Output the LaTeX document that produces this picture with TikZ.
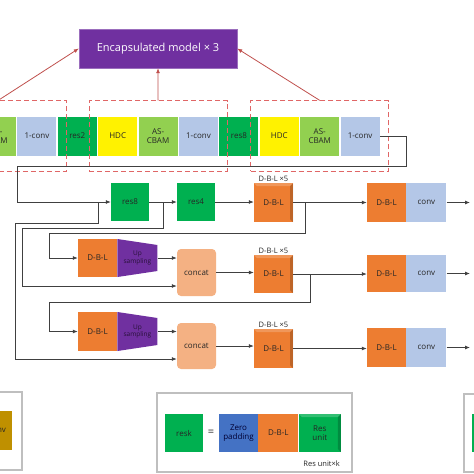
\documentclass[tikz,border=0pt]{standalone}
\usepackage{fontspec}
\setmainfont{Open Sans}
\usetikzlibrary{positioning, arrows.meta, fit, calc}

\definecolor{purp}{HTML}{7030A0}
\definecolor{lgreen}{HTML}{92D050}
\definecolor{lblue}{HTML}{B4C7E7}
\definecolor{dgreen}{HTML}{00B050}
\definecolor{orng}{HTML}{ED7D31}
\definecolor{peach}{HTML}{F4B183}
\definecolor{zblue}{HTML}{4472C4}
\definecolor{olive}{HTML}{BF9000}
\definecolor{dashred}{HTML}{E06666}
\definecolor{arrred}{HTML}{C0504D}
\definecolor{wirec}{HTML}{404040}
\definecolor{txt}{HTML}{262626}

\begin{document}
\begin{tikzpicture}[x=1pt, y=-1pt,
  blk/.style={minimum width=39pt, minimum height=39pt, inner sep=0pt, align=center, font=\fontsize{8}{9}\selectfont, text=txt},
  cube/.style={path picture={
    \fill[black, opacity=.2] ([xshift=-3pt,yshift=-3pt]path picture bounding box.north east) -- (path picture bounding box.north east) -- (path picture bounding box.south east) -- ([xshift=-3pt,yshift=3pt]path picture bounding box.south east) -- cycle;
    \fill[white, opacity=.2] (path picture bounding box.north west) -- (path picture bounding box.north east) -- ([xshift=-3pt,yshift=-3pt]path picture bounding box.north east) -- ([xshift=3pt,yshift=-3pt]path picture bounding box.north west) -- cycle;}},
  upsam/.style={blk, minimum width=40pt, font=\fontsize{6.5}{7.5}\selectfont, text=black!65!purp, path picture={
    \fill[purp] (path picture bounding box.north west) -- ([yshift=-6pt]path picture bounding box.north east) -- ([yshift=6pt]path picture bounding box.south east) -- (path picture bounding box.south west) -- cycle;}},
  grp/.style={draw=dashred, line width=.9pt, dash pattern=on 5pt off 3pt, inner xsep=9pt, inner ysep=15.5pt},
  wire/.style={draw=wirec, line width=.8pt},
  arr/.style={wire, -{Latex[length=5pt,width=4pt]}},
  redarr/.style={draw=arrred, line width=.8pt, -{Latex[length=5pt,width=4pt]}},
  lbl/.style={font=\fontsize{7.5}{8}\selectfont, text=txt, inner sep=1pt},
  legend/.style={draw=black!25, line width=1.2pt}
]
\fill[white] (0,0) rectangle (474,474);
\useasboundingbox (0,0) rectangle (474,474);

% encapsulated model
\node[fill=purp, draw=purp!70!white, minimum width=158pt, minimum height=39pt, text=white, font=\fontsize{11}{12}\selectfont] (encap) at (158,48.5) {Encapsulated model × 3};

% backbone row
\node[blk, fill=lgreen] (cbamL) at (-3.5,136) {AS-\\CBAM};
\node[blk, fill=lblue, right=1pt of cbamL] (conv1L) {1-conv};
\node[blk, fill=dgreen, right=1pt of conv1L] (res2) {res2};
\node[blk, fill=yellow, right=1pt of res2] (hdcM) {HDC};
\node[blk, fill=lgreen, right=1pt of hdcM] (cbamM) {AS-\\CBAM};
\node[blk, fill=lblue, right=1pt of cbamM] (conv1M) {1-conv};
\node[blk, fill=dgreen, right=1pt of conv1M] (res8a) {res8};
\node[blk, fill=yellow, right=1pt of res8a] (hdcR) {HDC};
\node[blk, fill=lgreen, right=1pt of hdcR] (cbamR) {AS-\\CBAM};
\node[blk, fill=lblue, right=1pt of cbamR] (conv1R) {1-conv};

% dashed groups
\node[grp, fit=(cbamL) (conv1L), inner xsep=10pt] (gL) {};
\node[grp, fit=(hdcM) (conv1M)] (gM) {};
\node[grp, fit=(hdcR) (conv1R)] (gR) {};
\coordinate (tL) at (-2,100.5);
\draw[redarr] (tL) -- (encap.west);
\draw[redarr] (gM.north) -- (encap.south);
\draw[redarr] (gR.north) -- (encap.east);

% second row
\node[blk, fill=dgreen, minimum width=38pt, minimum height=38pt] (res8b) at (130,202) {res8};
\node[blk, fill=dgreen, minimum width=38pt, minimum height=38pt] (res4) at (196,202) {res4};
\node[blk, fill=orng, cube, label={[lbl]above:D-B-L ×5}] (dblA) at (273.5,202.5) {D-B-L};
\node[blk, fill=orng] (hdA) at (386.5,202.5) {D-B-L};
\node[blk, fill=lblue, minimum width=40pt, right=0pt of hdA] (cvA) {conv};
\coordinate (outA) at (470,202.5);

% third row
\node[blk, fill=orng, minimum height=38pt] (upA) at (97.5,258) {D-B-L};
\node[upsam, minimum height=38pt, right=0pt of upA] (usA) {Up\\sampling};
\node[blk, fill=peach, rounded corners=4pt, minimum height=47pt] (catA) at (196.5,272.5) {concat};
\node[blk, fill=orng, cube, minimum height=38pt, label={[lbl]above:D-B-L ×5}] (dblB) at (273.5,274) {D-B-L};
\node[blk, fill=orng, minimum height=37pt] (hdB) at (386.5,273.5) {D-B-L};
\node[blk, fill=lblue, minimum width=40pt, minimum height=37pt, right=0pt of hdB] (cvB) {conv};
\coordinate (outB) at (470,273.5);

% fourth row
\node[blk, fill=orng] (upB) at (97.5,331.5) {D-B-L};
\node[upsam, right=0pt of upB] (usB) {Up\\sampling};
\node[blk, fill=peach, rounded corners=4pt, minimum height=46pt] (catB) at (196.5,346) {concat};
\node[blk, fill=orng, cube, label={[lbl]above:D-B-L ×5}] (dblC) at (273.5,348.5) {D-B-L};
\node[blk, fill=orng] (hdC) at (386.5,347.5) {D-B-L};
\node[blk, fill=lblue, minimum width=40pt, right=0pt of hdC] (cvC) {conv};
\coordinate (outC) at (470,347.5);

% connectors
\coordinate (jA) at (98,202);
\coordinate (jB) at (163,202);
\coordinate (jC) at (305,202.5);
\coordinate (jD) at (310,274);
\draw[arr] (conv1R.east) -- (406,136) |- (17,166) |- (res8b.west);
\draw[arr] (res8b.east) -- (res4.west);
\draw[arr] (res4.east) -- (res4.east -| dblA.west);
\draw[arr] (dblA.east) -- (hdA.west);
\draw[arr] (cvA.east) -- (outA);
\draw[wire] (jA) -- (98,223) -| (15,300);
\draw[arr] (15,300) |- (15,359 -| catB.west);
\draw[arr] (jB) -- (163,228) -| (22,286) -- (22,286 -| catA.west);
\draw[arr] (jC) |- (49,233) |- (upA.west);
\draw[arr] (usA.east) -- (usA.east -| catA.west);
\draw[arr] (catA.east) -- (catA.east -| dblB.west);
\draw[arr] (dblB.east) -- (dblB.east -| hdB.west);
\draw[arr] (cvB.east) -- (outB);
\draw[arr] (jD) |- (49,302) |- (upB.west);
\draw[arr] (usB.east) -- (usB.east -| catB.west);
\draw[arr] (catB.east) -- (catB.east -| dblC.west);
\draw[arr] (dblC.east) -- (dblC.east -| hdC.west);
\draw[arr] (cvC.east) -- (outC);

% legends
\draw[legend] (-60,392) rectangle (22,470);
\node[blk, fill=olive, text width=27pt, align=right] (lgA) at (-7.5,430.5) {conv};
\node[legend, minimum width=195pt, minimum height=79pt] (lgBox) at (254.5,432.5) {};
\node[blk, fill=dgreen, minimum width=38pt, minimum height=38pt] (resk) at (184,433) {resk};
\node[font=\fontsize{11}{12}\selectfont, text=txt] (eq) at (211,433) {=};
\node[blk, fill=zblue, minimum height=38pt, text=black!80!blue] (zpad) at (238.5,433) {Zero\\padding};
\node[blk, fill=orng, minimum height=38pt, minimum width=40pt, right=0pt of zpad] (dblL) {D-B-L};
\node[blk, fill=dgreen, cube, minimum height=38pt, minimum width=42pt, right=0pt of dblL] (runit) {Res\\unit};
\node[lbl, anchor=east] (rk) at (341,464) {Res unit×k};
\draw[legend] (464,394) rectangle (540,472);
\node[blk, fill=dgreen, minimum height=38pt] (lgC) at (491,433) {};
\end{tikzpicture}
\end{document}
